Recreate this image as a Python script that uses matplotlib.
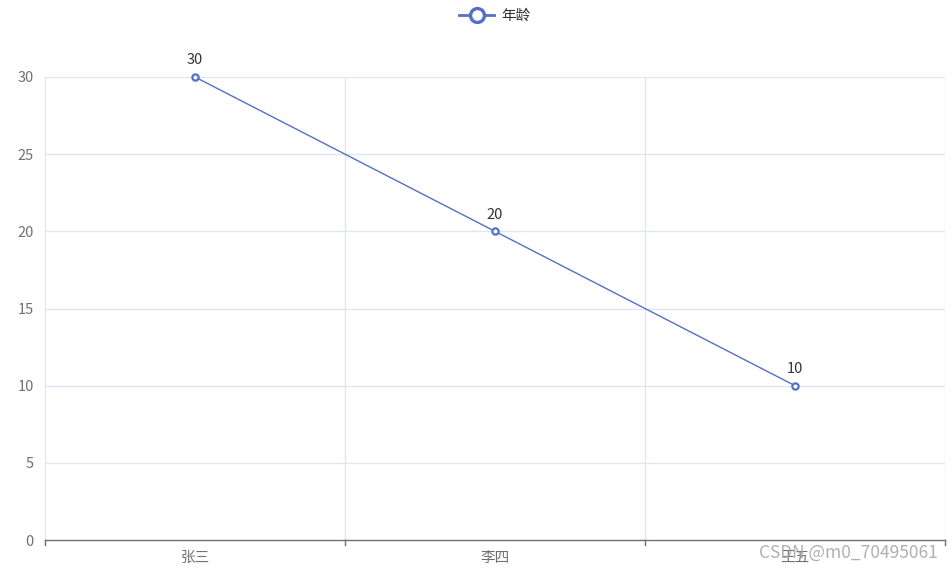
import matplotlib.pyplot as plt
from matplotlib.lines import Line2D

plt.rcParams['font.family'] = ['Noto Sans CJK SC', 'DejaVu Sans']

names = ['张三', '李四', '王五']
ages = [30, 20, 10]
y_ticks = [0, 5, 10, 15, 20, 25, 30]

W, H = 952, 571
fig = plt.figure(figsize=(W / 100, H / 100), dpi=100)
ax = fig.add_axes([45 / W, (H - 540) / H, 900 / W, (540 - 77) / H])

line_c = '#5470c6'
axis_c = '#6e7079'
grid_c = '#e0e6f1'

x = list(range(len(names)))
ax.plot(x, ages, color=line_c, lw=1, marker='o', ms=4.5, mfc='white',
        mec=line_c, mew=1.6, zorder=5, clip_on=False)
for xi, v in zip(x, ages):
    ax.annotate(str(v), (xi, v), xytext=(0, 7), textcoords='offset points',
                ha='center', va='bottom', fontsize=10.5, color='#333333')

ax.set_xlim(-0.5, len(names) - 0.5)
ax.set_ylim(0, 30)
ax.set_yticks(y_ticks)
ax.set_xticks(x)
ax.set_xticklabels(names)

# grid lines
for yv in y_ticks[1:]:
    ax.axhline(yv, color=grid_c, lw=1, zorder=0)
for b in [-0.5, 0.5, 1.5, 2.5]:
    ax.axvline(b, color=grid_c, lw=1, zorder=0)

for s in ['top', 'right', 'left']:
    ax.spines[s].set_visible(False)
ax.spines['bottom'].set_color(axis_c)
ax.spines['bottom'].set_linewidth(1)

ax.tick_params(axis='y', length=0, pad=8, labelsize=10.5, labelcolor=axis_c)
ax.tick_params(axis='x', length=0, pad=8, labelsize=10.5, labelcolor=axis_c)
# boundary tick marks
for b in [-0.5, 0.5, 1.5, 2.5]:
    ax.plot([b, b], [0, -0.35], color=axis_c, lw=1, clip_on=False, zorder=4)

# legend
handle = Line2D([], [], color=line_c, lw=2, marker='o', ms=10, mfc='white',
                mec=line_c, mew=2.4)
fig.legend([handle], ['年龄'], loc='center', bbox_to_anchor=(495 / W, 1 - 16 / H),
           frameon=False, fontsize=10.5, handlelength=2.4, handletextpad=0.5,
           labelcolor='#333333')

# watermark
fig.text(938 / W, 1 - 553 / H, 'CSDN @m0_70495061', ha='right', va='center',
         fontsize=12.5, color='#a8a8a8', alpha=0.9)

fig.savefig('out.png', dpi=100, facecolor='white')
